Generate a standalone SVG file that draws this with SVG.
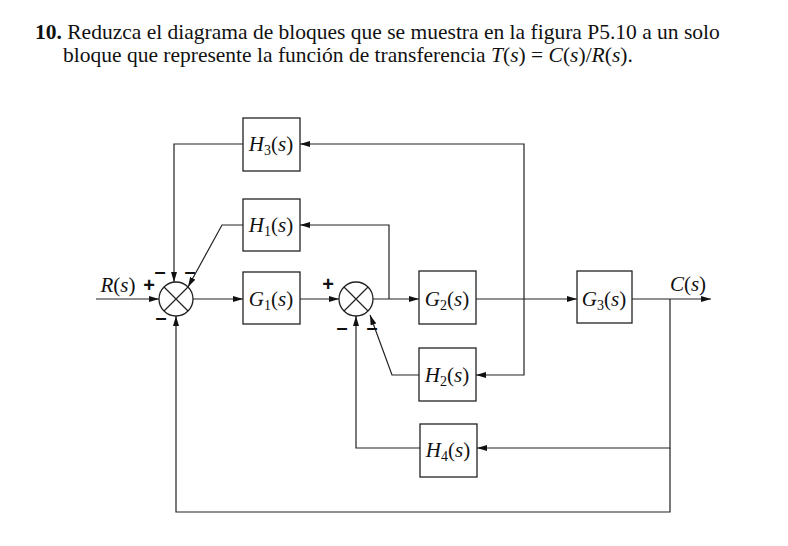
<svg xmlns="http://www.w3.org/2000/svg" width="788" height="546" viewBox="0 0 788 546">
<defs>
<marker id="a" viewBox="0 0 10 6" refX="10" refY="3" markerWidth="10" markerHeight="6" markerUnits="userSpaceOnUse" orient="auto"><path d="M0,0 L10,3 L0,6 Z" fill="#111"/></marker>
</defs>
<style>
.t{font-family:"Liberation Serif",serif;font-size:21.5px;fill:#111}
.b{fill:#fff;stroke:#222;stroke-width:1.3}
.l{fill:none;stroke:#222;stroke-width:1.2}
.m{font-family:"Liberation Serif",serif;font-size:21px;fill:#111;text-anchor:middle;font-style:italic}
.s{font-family:"Liberation Sans",sans-serif;font-size:20px;font-weight:bold;fill:#111;text-anchor:middle}
</style>
<rect width="788" height="546" fill="#fff"/>
<text class="t" x="35" y="39"><tspan font-weight="bold">10.</tspan> Reduzca el diagrama de bloques que se muestra en la figura P5.10 a un solo</text>
<text class="t" x="63" y="62">bloque que represente la función de transferencia <tspan font-style="italic">T</tspan>(<tspan font-style="italic">s</tspan>) = <tspan font-style="italic">C</tspan>(<tspan font-style="italic">s</tspan>)/<tspan font-style="italic">R</tspan>(<tspan font-style="italic">s</tspan>).</text>
<g id="connectors" class="l">
<path d="M96,299 H159" marker-end="url(#a)"/>
<path d="M193,299 H243" marker-end="url(#a)"/>
<path d="M300,299 H339" marker-end="url(#a)"/>
<path d="M373,299 H419" marker-end="url(#a)"/>
<path d="M476,299 H577" marker-end="url(#a)"/>
<path d="M632,299 H711" marker-end="url(#a)"/>
<path d="M389,299 V225 H300" marker-end="url(#a)"/>
<path d="M243,225 H222 L188,287" marker-end="url(#a)"/>
<path d="M524,299 V144 H300" marker-end="url(#a)"/>
<path d="M243,144 H174 V282" marker-end="url(#a)"/>
<path d="M524,299 V375 H476" marker-end="url(#a)"/>
<path d="M419,375 H392 L370,315" marker-end="url(#a)"/>
<path d="M670,299 V448 H477" marker-end="url(#a)"/>
<path d="M420,448 H356 V316" marker-end="url(#a)"/>
<path d="M670,448 V512 H176 V316" marker-end="url(#a)"/>
</g>
<g id="sum1"><circle class="b" cx="176" cy="299" r="17"/><path class="l" d="M164,287 L188,311 M188,287 L164,311"/></g>
<g id="sum2"><circle class="b" cx="356" cy="299" r="17"/><path class="l" d="M344,287 L368,311 M368,287 L344,311"/></g>
<g id="G1"><rect class="b" x="243" y="272" width="57" height="52"/><text class="m" x="271" y="306">G<tspan font-style="normal" font-size="14" dy="4">1</tspan><tspan dy="-4" font-style="normal">(</tspan>s<tspan font-style="normal">)</tspan></text></g>
<g id="G2"><rect class="b" x="419" y="271" width="57" height="53"/><text class="m" x="447" y="306">G<tspan font-style="normal" font-size="14" dy="4">2</tspan><tspan dy="-4" font-style="normal">(</tspan>s<tspan font-style="normal">)</tspan></text></g>
<g id="G3"><rect class="b" x="577" y="271" width="55" height="52"/><text class="m" x="604" y="306">G<tspan font-style="normal" font-size="14" dy="4">3</tspan><tspan dy="-4" font-style="normal">(</tspan>s<tspan font-style="normal">)</tspan></text></g>
<g id="H3"><rect class="b" x="243" y="118" width="57" height="53"/><text class="m" x="271" y="151">H<tspan font-style="normal" font-size="14" dy="4">3</tspan><tspan dy="-4" font-style="normal">(</tspan>s<tspan font-style="normal">)</tspan></text></g>
<g id="H1"><rect class="b" x="243" y="199" width="57" height="52"/><text class="m" x="271" y="232">H<tspan font-style="normal" font-size="14" dy="4">1</tspan><tspan dy="-4" font-style="normal">(</tspan>s<tspan font-style="normal">)</tspan></text></g>
<g id="H2"><rect class="b" x="419" y="348" width="57" height="53"/><text class="m" x="447" y="382">H<tspan font-style="normal" font-size="14" dy="4">2</tspan><tspan dy="-4" font-style="normal">(</tspan>s<tspan font-style="normal">)</tspan></text></g>
<g id="H4"><rect class="b" x="420" y="424" width="57" height="53"/><text class="m" x="448" y="457">H<tspan font-style="normal" font-size="14" dy="4">4</tspan><tspan dy="-4" font-style="normal">(</tspan>s<tspan font-style="normal">)</tspan></text></g>
<g id="labels">
<text class="m" x="118" y="292">R<tspan font-style="normal">(</tspan>s<tspan font-style="normal">)</tspan></text>
<text class="s" x="149" y="292">+</text>
<text class="s" x="160" y="278">–</text>
<text class="s" x="190" y="278">–</text>
<text class="s" x="161" y="324">–</text>
<text class="m" x="688" y="291">C<tspan font-style="normal">(</tspan>s<tspan font-style="normal">)</tspan></text>
<text class="s" x="328" y="291">+</text>
<text class="s" x="342" y="334">–</text>
<text class="s" x="372" y="334">–</text>
</g>
</svg>
